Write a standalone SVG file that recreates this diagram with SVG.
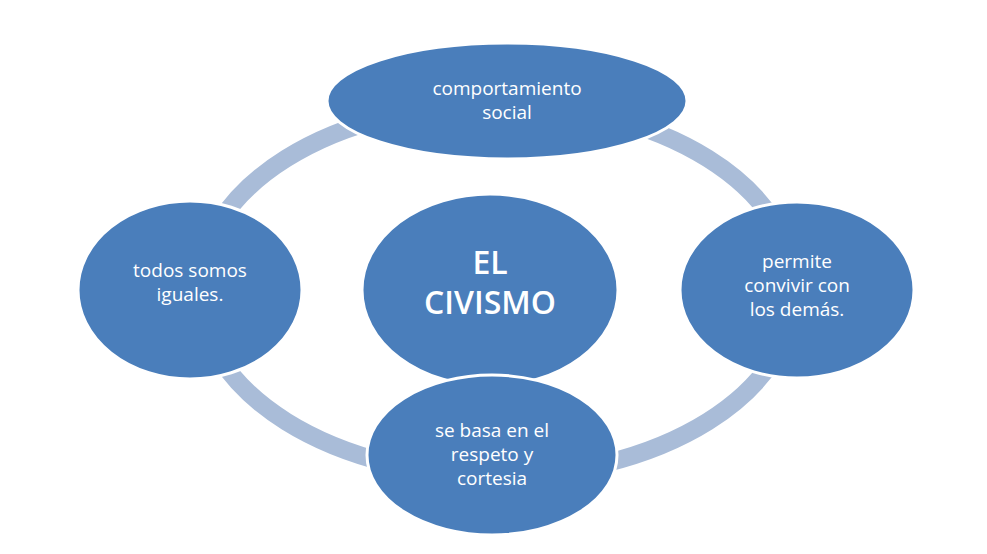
<svg xmlns="http://www.w3.org/2000/svg" width="987" height="554" viewBox="0 0 987 554">
<style>
.n{fill:#4a7ebb;stroke:#ffffff;stroke-width:3}
.t{fill:#ffffff;font-family:"Open Sans","Liberation Sans",sans-serif;font-size:19px;text-anchor:middle}
.b{font-size:32px;font-weight:600}
</style>
<rect width="987" height="554" fill="#ffffff"/>
<g id="connectors">
<ellipse cx="497" cy="290" rx="298" ry="186" fill="none" stroke="#a9bcd8" stroke-width="18"/>
</g>
<g id="center"><ellipse class="n" cx="490" cy="290" rx="128" ry="96"/>
<text class="t b" x="490" y="274">EL</text><text class="t b" x="490" y="314">CIVISMO</text></g>
<g id="top"><ellipse class="n" cx="507" cy="101" rx="180" ry="58"/>
<text class="t" x="507" y="95">comportamiento</text><text class="t" x="507" y="119">social</text></g>
<g id="left"><ellipse class="n" cx="190" cy="290" rx="112" ry="89"/>
<text class="t" x="190" y="277">todos somos</text><text class="t" x="190" y="301">iguales.</text></g>
<g id="right"><ellipse class="n" cx="797" cy="290" rx="117" ry="88"/>
<text class="t" x="797" y="268">permite</text><text class="t" x="797" y="292">convivir con</text><text class="t" x="797" y="316">los demás.</text></g>
<g id="bottom"><ellipse class="n" cx="492" cy="455" rx="125" ry="80"/>
<text class="t" x="492" y="437">se basa en el</text><text class="t" x="492" y="461">respeto y</text><text class="t" x="492" y="485">cortesia</text></g>
</svg>
